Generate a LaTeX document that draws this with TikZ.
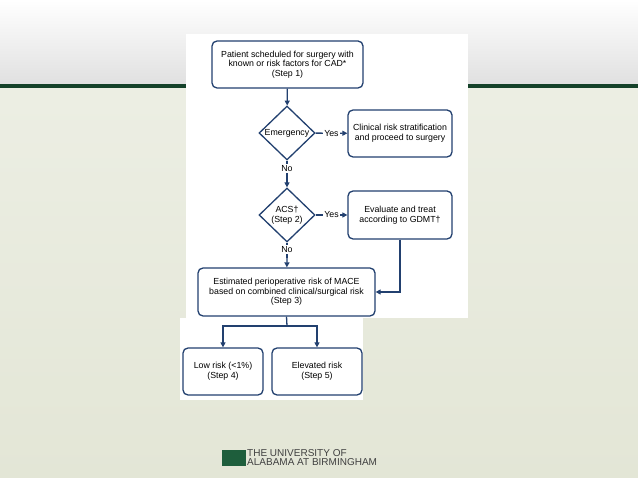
\documentclass[tikz,border=0pt]{standalone}
\usepackage{fontspec}
\setmainfont{Liberation Sans}
\usetikzlibrary{shapes.geometric,arrows.meta}
\definecolor{fb}{HTML}{22406F}
\definecolor{slide}{HTML}{E3E6D6}
\definecolor{uab}{HTML}{1E5E3C}
\begin{document}
\begin{tikzpicture}[x=1pt,y=-1pt,
  box/.style={draw=fb,line width=1.3pt,rounded corners=5pt,fill=white,align=center,font=\fontsize{8.8}{9.6}\selectfont,inner sep=1pt},
  dia/.style={draw=fb,line width=1.3pt,diamond,fill=white,align=center,font=\fontsize{8.8}{9.6}\selectfont,inner sep=0pt,minimum width=56pt,minimum height=54pt},
  lab/.style={font=\fontsize{8.8}{9.6}\selectfont,inner sep=1pt,fill=white},
  arr/.style={draw=fb,line width=1.3pt,-{Triangle[length=5pt,width=5pt]}},
  ln/.style={draw=fb,line width=1.3pt}]
\useasboundingbox (0,0) rectangle (638,478);
\shade[top color=slide!60!white,bottom color=slide] (0,0) rectangle (638,478);
\shade[top color=white,bottom color=black!12] (0,0) rectangle (638,84);
\fill[uab!70!black] (0,84) rectangle (638,88);
\fill[white] (186,34) rectangle (468,318);
\fill[white] (180,318) rectangle (363,400);
\node[box,minimum width=151pt,minimum height=47pt] (s1) at (287.5,64.5) {Patient scheduled for surgery with\\known or risk factors for CAD*\\(Step 1)};
\node[dia] (em) at (287,133) {Emergency};
\node[box,minimum width=104pt,minimum height=47pt] (cl) at (400,133.5) {Clinical risk stratification\\and proceed to surgery};
\node[dia] (acs) at (287,215) {ACS†\\(Step 2)};
\node[box,minimum width=104pt,minimum height=48pt] (ev) at (400,215) {Evaluate and treat\\according to GDMT†};
\node[box,minimum width=177pt,minimum height=48pt] (s3) at (286.5,292) {Estimated perioperative risk of MACE\\based on combined clinical/surgical risk\\(Step 3)};
\node[box,minimum width=80pt,minimum height=47pt] (lo) at (223,371.5) {Low risk (<1\%)\\(Step 4)};
\node[box,minimum width=90pt,minimum height=47pt] (el) at (317,371.5) {Elevated risk\\(Step 5)};
\draw[arr] (s1) -- (em);
\draw[arr] (em) -- node[lab]{Yes} (cl);
\draw[ln] (em) -- node[lab,pos=0.45]{No} (287,178);
\draw[arr] (287,178) -- (acs);
\draw[arr] (acs) -- node[lab]{Yes} (ev);
\draw[ln] (acs) -- node[lab,pos=0.45]{No} (287,258);
\draw[arr] (287,258) -- (s3);
\draw[arr] (ev.south) |- (s3.east);
\coordinate (j) at (287,326);
\draw[ln] (s3.south) -- (j);
\draw[arr] (j) -| (lo.north);
\draw[arr] (j) -| (el.north);
\fill[uab] (222,450) rectangle (246,466);
\node[anchor=west,inner sep=0pt,align=left,text=black!75,font=\fontsize{10}{9}\selectfont] (logo) at (247,458) {THE UNIVERSITY OF\\ALABAMA AT BIRMINGHAM};
\end{tikzpicture}
\end{document}
